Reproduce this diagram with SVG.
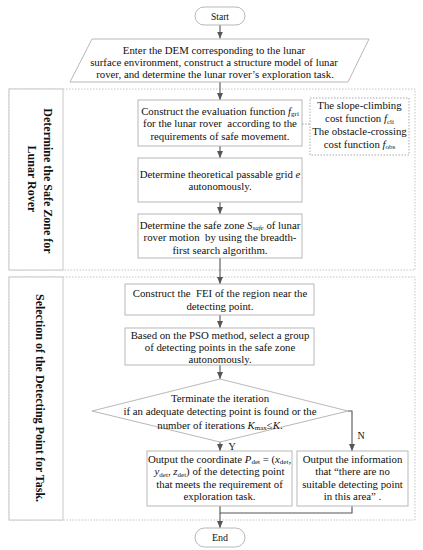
<svg xmlns="http://www.w3.org/2000/svg" width="423" height="550" viewBox="0 0 423 550">
<defs>
<marker id="arr" viewBox="0 0 7 6" refX="7" refY="3" markerWidth="7" markerHeight="6" markerUnits="userSpaceOnUse" orient="auto">
<path d="M0,0 L7,3 L0,6 z" fill="#555"/>
</marker>
<style>
text{font-family:"Liberation Serif","Times New Roman",serif;font-size:10.8px;fill:#111;text-anchor:middle}
.box{fill:#fff;stroke:#b8b8b8;stroke-width:1}
.panel{fill:none;stroke:#c4c4c4;stroke-width:1;stroke-dasharray:1.5 1.5}
.lab{fill:#fff;stroke:#c8c8c8;stroke-width:1}
.lt{font-weight:bold;font-size:12px}
.ln{fill:none;stroke:#555;stroke-width:1.1}
.dot{fill:none;stroke:#999;stroke-width:1;stroke-dasharray:1.5 1.5}
.i{font-style:italic}
.s{font-size:7px}
</style>
</defs>

<g id="panel1">
<rect class="panel" x="9" y="89" width="406" height="181"/>
<rect class="lab" x="9" y="89" width="54" height="181"/>
<text class="lt" transform="translate(44,181) rotate(90)" y="0">Determine the Safe Zone for</text>
<text class="lt" transform="translate(27.5,179) rotate(90)" y="0">Lunar Rover</text>
</g>
<g id="panel2">
<rect class="panel" x="9" y="277" width="406" height="243"/>
<rect class="lab" x="9" y="277" width="54" height="243"/>
<text class="lt" transform="translate(36,398) rotate(90)" y="0">Selection of the Detecting Point for Task.</text>
</g>

<g id="connectors">
<line class="ln" x1="220" y1="25" x2="220" y2="38.5" marker-end="url(#arr)"/>
<line class="ln" x1="220" y1="82" x2="220" y2="100" marker-end="url(#arr)"/>
<line class="dot" x1="302" y1="124" x2="310" y2="124"/>
<line class="ln" x1="220" y1="146" x2="220" y2="158" marker-end="url(#arr)"/>
<line class="ln" x1="220" y1="202" x2="220" y2="214" marker-end="url(#arr)"/>
<line class="ln" x1="220" y1="258" x2="220" y2="284" marker-end="url(#arr)"/>
<line class="ln" x1="220" y1="315" x2="220" y2="328" marker-end="url(#arr)"/>
<line class="ln" x1="220" y1="365" x2="220" y2="379" marker-end="url(#arr)"/>
<line class="ln" x1="220" y1="442" x2="220" y2="451" marker-end="url(#arr)"/>
<polyline class="ln" points="348,411 352,411 352,451" marker-end="url(#arr)"/>
<polyline class="ln" points="220,506 220,513 352,513 352,506"/>
<line class="ln" x1="220" y1="513" x2="220" y2="528" marker-end="url(#arr)"/>
<text x="232" y="450" style="font-size:10px">Y</text>
<text x="361" y="439" style="font-size:10px">N</text>
</g>

<g id="start">
<rect class="box" x="195" y="7" width="50" height="18" rx="9" ry="9"/>
<text x="220" y="19.5" style="font-size:9.5px">Start</text>
</g>

<g id="input">
<polygon class="box" points="92,39 369,39 348,82 70,82"/>
<text x="214" y="54">Enter the DEM corresponding to the lunar</text>
<text x="214" y="66">surface environment, construct a structure model of lunar</text>
<text x="215" y="78">rover, and determine the lunar rover’s exploration task.</text>
</g>

<g id="evalfunc">
<rect class="box" x="138" y="100" width="164" height="46"/>
<text x="220" y="114.5">Construct the evaluation function <tspan class="i">f</tspan><tspan class="s" dy="1.5">gri</tspan></text>
<text x="220" y="127" xml:space="preserve">for the lunar rover  according to the</text>
<text x="220" y="139.5">requirements of safe movement.</text>
</g>

<g id="costfuncs">
<rect class="panel" x="310" y="98" width="99" height="57" style="stroke:#aaa"/>
<text x="359.5" y="109">The slope-climbing</text>
<text x="359.5" y="122">cost function <tspan class="i">f</tspan><tspan class="s" dy="1.5">cli</tspan></text>
<text x="359.5" y="135">The obstacle-crossing</text>
<text x="359.5" y="147.5">cost function <tspan class="i">f</tspan><tspan class="s" dy="1.5">obs</tspan></text>
</g>

<g id="grid">
<rect class="box" x="138" y="158" width="164" height="44"/>
<text x="220" y="177.5">Determine theoretical passable grid <tspan class="i">e</tspan></text>
<text x="220" y="190">autonomously.</text>
</g>

<g id="safezone">
<rect class="box" x="138" y="214" width="164" height="44"/>
<text x="220" y="228.5">Determine the safe zone <tspan class="i">S</tspan><tspan class="s i" dy="1.5">safe</tspan><tspan dy="-1.5"> of lunar</tspan></text>
<text x="220" y="241" xml:space="preserve">rover motion  by using the breadth-</text>
<text x="220" y="253.5">first search algorithm.</text>
</g>

<g id="fei">
<rect class="box" x="125" y="284" width="189" height="31"/>
<text x="220" y="297" xml:space="preserve">Construct the  FEI of the region near the</text>
<text x="220" y="310">detecting point.</text>
</g>

<g id="pso">
<rect class="box" x="125" y="328" width="189" height="37"/>
<text x="220" y="338.5">Based on the PSO method, select a group</text>
<text x="220" y="350.5">of detecting points in the safe zone</text>
<text x="220" y="362.5">autonomously.</text>
</g>

<g id="decision">
<polygon class="box" points="220,379 348,411 220,442 92,411"/>
<text x="220" y="401.5">Terminate the iteration</text>
<text x="220" y="415">if an adequate detecting point is found or the</text>
<text x="220" y="428.5">number of iterations <tspan class="i">K</tspan><tspan class="s" dy="1.5">max</tspan><tspan dy="-1.5">≤</tspan><tspan class="i">K</tspan>.</text>
</g>

<g id="output">
<rect class="box" x="147" y="451" width="145" height="55"/>
<text x="219.5" y="462.5">Output the coordinate <tspan class="i">P</tspan><tspan class="s" dy="1.5">det</tspan><tspan dy="-1.5"> = (</tspan><tspan class="i">x</tspan><tspan class="s" dy="1.5">det</tspan><tspan dy="-1.5">,</tspan></text>
<text x="219.5" y="475"><tspan class="i">y</tspan><tspan class="s" dy="1.5">det</tspan><tspan dy="-1.5">, </tspan><tspan class="i">z</tspan><tspan class="s" dy="1.5">det</tspan><tspan dy="-1.5">) of the detecting point</tspan></text>
<text x="219.5" y="487.5">that meets the requirement of</text>
<text x="219.5" y="500">exploration task.</text>
</g>

<g id="nopoint">
<rect class="box" x="297" y="451" width="111" height="55"/>
<text x="352.5" y="462.5">Output the information</text>
<text x="352.5" y="475" xml:space="preserve">that “there are no</text>
<text x="352.5" y="487.5">suitable detecting point</text>
<text x="352.5" y="500" xml:space="preserve">in this area” .</text>
</g>

<g id="end">
<rect class="box" x="195" y="528" width="50" height="19" rx="9.5" ry="9.5"/>
<text x="220" y="541" style="font-size:10px">End</text>
</g>
</svg>
